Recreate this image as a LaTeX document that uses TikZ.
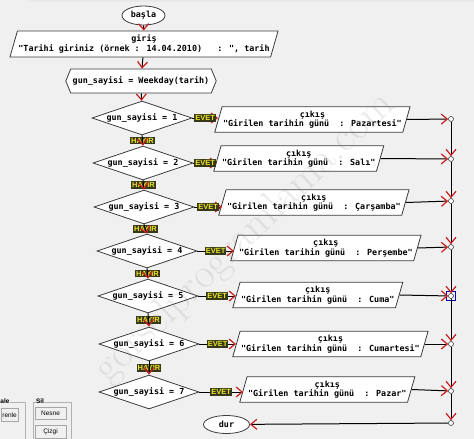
\documentclass[tikz,border=0pt]{standalone}
\usepackage{fontspec}
\usetikzlibrary{shapes.geometric, shapes.symbols, arrows.meta}

\newfontfamily\akisfont{DejaVu Sans Mono}
\newfontfamily\arayuzfont{Liberation Sans}

\definecolor{ekran}{RGB}{240,240,240}
\definecolor{kenar}{RGB}{60,60,60}
\definecolor{okkirmizi}{RGB}{200,30,30}
\definecolor{etiketzemin}{RGB}{55,55,25}
\definecolor{etiketyazi}{RGB}{235,230,40}

\tikzset{
  akis/.style={draw=kenar, fill=white, line width=0.8pt, align=center,
    font=\akisfont\bfseries\fontsize{8.4}{9.4}\selectfont},
  uc/.style={akis, ellipse, inner sep=0pt},
  girdi/.style={akis, trapezium, trapezium left angle=74, trapezium right angle=106,
    inner xsep=1pt, inner ysep=4pt},
  islem/.style={akis, signal, signal to=east and west, signal pointer angle=135,
    minimum height=24pt, inner xsep=2pt},
  karar/.style={akis, diamond, aspect=2.9, inner sep=0pt, minimum width=100pt, minimum height=34pt},
  birlesme/.style={circle, draw=kenar, fill=white, line width=0.6pt, inner sep=0pt, minimum size=5pt},
  ok/.style={draw=black, line width=1pt,
    -{Straight Barb[color=okkirmizi, length=6pt, width=10pt, line width=1.2pt]}},
  evet/.style={fill=etiketzemin, text=etiketyazi, inner xsep=1pt, inner ysep=1pt,
    font=\arayuzfont\bfseries\fontsize{7.5}{7.5}\selectfont},
  tus/.style={draw=gray!70, fill=ekran, inner sep=1pt, font=\arayuzfont\fontsize{6.5}{7}\selectfont},
}

\begin{document}
\begin{tikzpicture}[x=1pt, y=-1pt]
  \fill[ekran] (0,0) rectangle (474,439);
  \useasboundingbox (0,0) rectangle (474,439);
  \fill[gray!18] (28,0) rectangle (474,2);

  \node[uc, minimum width=43pt, minimum height=19pt] (basla) at (143.5,15.5) {başla};
  \node[girdi] (giris) at (144,44)
    {giriş\\"Tarihi giriniz (örnek : 14.04.2010)\ \ \ : ", tarih};
  \node[islem] (gun) at (141,81) {gun\_sayisi = Weekday(tarih)};

  \node[karar] (k1) at (142,118) {gun\_sayisi = 1};
  \node[karar] (k2) at (143,163) {gun\_sayisi = 2};
  \node[karar] (k3) at (144,207) {gun\_sayisi = 3};
  \node[karar] (k4) at (147,251) {gun\_sayisi = 4};
  \node[karar] (k5) at (148,296) {gun\_sayisi = 5};
  \node[karar] (k6) at (149,344) {gun\_sayisi = 6};
  \node[karar] (k7) at (149,392) {gun\_sayisi = 7};

  \node[girdi, anchor=west] (c1) at (218,119.5) {çıkış\\"Girilen tarihin günü\ \ : Pazartesi"};
  \node[girdi, anchor=west] (c2) at (217,158.5) {çıkış\\"Girilen tarihin günü\ \ : Salı"};
  \node[girdi, anchor=west] (c3) at (222,202.5) {çıkış\\"Girilen tarihin günü\ \ : Çarşamba"};
  \node[girdi, anchor=west] (c4) at (234,248) {çıkış\\"Girilen tarihin günü\ \ : Perşembe"};
  \node[girdi, anchor=west] (c5) at (236,295) {çıkış\\"Girilen tarihin günü\ \ : Cuma"};
  \node[girdi, anchor=west] (c6) at (236,344) {çıkış\\"Girilen tarihin günü\ \ : Cumartesi"};
  \node[girdi, anchor=west] (c7) at (243,389.5) {çıkış\\"Girilen tarihin günü\ \ : Pazar"};

  \node[uc, minimum width=46pt, minimum height=18pt] (dur) at (226.5,424.5) {dur};

  \node[birlesme] (b1) at (451,119) {};
  \node[birlesme] (b2) at (451,159) {};
  \node[birlesme] (b3) at (451,201) {};
  \node[birlesme] (b4) at (451,247) {};
  \node[birlesme] (b5) at (451,296) {};
  \node[birlesme] (b6) at (451,344) {};
  \node[birlesme] (b7) at (451,391) {};
  \node[birlesme] (b8) at (451,423) {};
  \draw[blue!70!black, line width=1pt] (b5) +(-4.5,-4.5) rectangle +(4.5,4.5);

  \draw[ok] (basla) -- (giris);
  \draw[ok] (giris) -- (gun);
  \draw[ok] (gun) -- (k1);

  \path (k1.south) -- node[evet] {HAYIR} (k2.north);
  \path (k2.south) -- node[evet] {HAYIR} (k3.north);
  \path (k3.south) -- node[evet] {HAYIR} (k4.north);
  \path (k4.south) -- node[evet] {HAYIR} (k5.north);
  \path (k5.south) -- node[evet] {HAYIR} (k6.north);
  \path (k6.south) -- node[evet] {HAYIR} (k7.north);
  \draw[ok] (k1.south) -- (k2.north);
  \draw[ok] (k2.south) -- (k3.north);
  \draw[ok] (k3.south) -- (k4.north);
  \draw[ok] (k4.south) -- (k5.north);
  \draw[ok] (k5.south) -- (k6.north);
  \draw[ok] (k6.south) -- (k7.north);

  \draw[ok] (k1.east) -- node[evet] {EVET} (c1.west |- k1.east);
  \draw[ok] (k2.east) -- node[evet] {EVET} (c2.west |- k2.east);
  \draw[ok] (k3.east) -- node[evet] {EVET} (c3.west |- k3.east);
  \draw[ok] (k4.east) -- node[evet] {EVET} (c4.west |- k4.east);
  \draw[ok] (k5.east) -- node[evet] {EVET} (c5.west |- k5.east);
  \draw[ok] (k6.east) -- node[evet] {EVET} (c6.west |- k6.east);
  \draw[ok] (k7.east) -- node[evet] {EVET} (c7.west |- k7.east);

  \draw[ok] (c1.east) -- (b1);
  \draw[ok] (c2.east) -- (b2);
  \draw[ok] (c3.east) -- (b3);
  \draw[ok] (c4.east) -- (b4);
  \draw[ok] (c5.east) -- (b5);
  \draw[ok] (c6.east) -- (b6);
  \draw[ok] (c7.east) -- (b7);

  \draw[ok] (b1) -- (b2);
  \draw[ok] (b2) -- (b3);
  \draw[ok] (b3) -- (b4);
  \draw[ok] (b4) -- (b5);
  \draw[ok] (b5) -- (b6);
  \draw[ok] (b6) -- (b7);
  \draw[ok] (b7) -- (b8);
  \draw[ok] (b8) -- (dur);

  \draw[gray!60] (-2,402) rectangle (25,445);
  \node[fill=ekran, inner sep=0.5pt, font=\arayuzfont\bfseries\fontsize{6.5}{7}\selectfont] (grup1) at (5,401) {ale};
  \node[tus, anchor=east, minimum height=13pt] (sirala) at (18,415) {renle};
  \draw[gray!60] (33,402) rectangle (71,445);
  \node[fill=ekran, inner sep=0.5pt, font=\arayuzfont\bfseries\fontsize{6.5}{7}\selectfont] (grup2) at (40,401) {Sil};
  \node[tus, minimum width=31pt, minimum height=12pt] (nesne) at (50.5,413) {Nesne};
  \node[tus, minimum width=31pt, minimum height=13pt] (cizgi) at (50.5,432) {Çizgi};

  \node[rotate=44, text=gray, opacity=0.16, font=\fontsize{42}{42}\selectfont] (damga) at (245,238) {gorselprogramlama.com};
\end{tikzpicture}
\end{document}
